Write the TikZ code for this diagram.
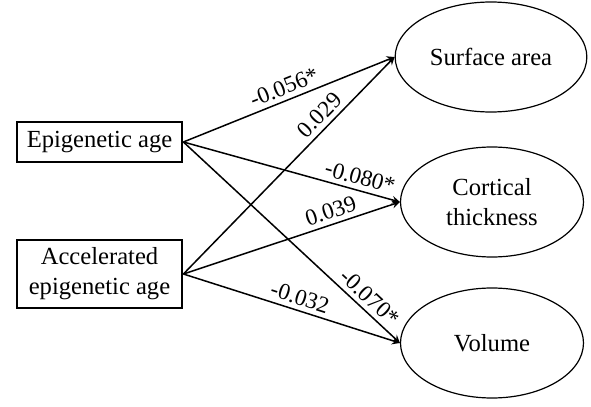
\documentclass[tikz,border=0pt]{standalone}
\usepackage{fontspec}
\setmainfont{Liberation Serif}
\usetikzlibrary{arrows, positioning, shapes.geometric}
\tikzset{
  obs/.style={draw, line width=1.4pt, minimum width=82.5pt, inner sep=1pt, align=center, font=\fontsize{12.3}{15}\selectfont},
  lat/.style={ellipse, draw, line width=0.6pt, minimum width=91.5pt, minimum height=55pt, align=center, font=\fontsize{12.3}{15}\selectfont},
  pth/.style={->, >=stealth, line width=0.75pt},
  coef/.style={font=\fontsize{11.6}{13}\selectfont, inner sep=2.3pt, sloped, above}
}

\begin{document}
\begin{tikzpicture}[x=0.5pt, y=-0.5pt]
		\useasboundingbox (0,0) rectangle (591,407);
		\node[obs, minimum height=20pt] (ea) at (99.5,142) {Epigenetic age};
		\node[obs, minimum height=34pt] (aa) at (99.5,274) {Accelerated\\epigenetic age};
		\node[lat] (sa) at (491,57) {Surface area};
		\node[lat] (ct) at (492,202) {Cortical\\thickness};
		\node[lat] (vo) at (492,343) {Volume};
		\draw[pth] (ea.east) -- node[coef, pos=0.5] {-0.056*} (sa.west);
		\draw[pth] (aa.east) -- node[coef, pos=0.69] {0.029} (sa.west);
		\draw[pth] (ea.east) -- node[coef, pos=0.8] {-0.080*} (ct.west);
		\draw[pth] (aa.east) -- node[coef, pos=0.7] {0.039} (ct.west);
		\draw[pth] (ea.east) -- node[coef, pos=0.82] {-0.070*} (vo.west);
		\draw[pth] (aa.east) -- node[coef, pos=0.52] {-0.032} (vo.west);
	\end{tikzpicture}
\end{document}
